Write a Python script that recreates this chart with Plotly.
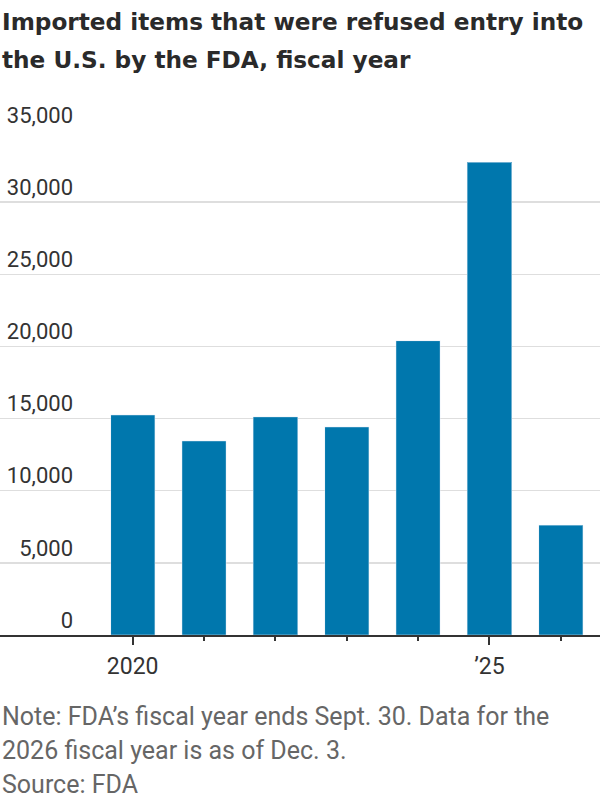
import plotly.graph_objects as go

years = [2020, 2021, 2022, 2023, 2024, 2025, 2026]
refused = [15250, 13450, 15120, 14420, 20400, 32750, 7600]

x_tickvals = [2020, 2025]
x_ticktext = ["2020", "\u201925"]
y_tickvals = [0, 5000, 10000, 15000, 20000, 25000, 30000, 35000]
y_ticktext = ["0", "5,000", "10,000", "15,000", "20,000", "25,000", "30,000", "35,000"]

title_lines = ["Imported items that were refused entry into",
               "the U.S. by the FDA, fiscal year"]
note_lines = ["Note: FDA\u2019s fiscal year ends Sept. 30. Data for the",
              "2026 fiscal year is as of Dec. 3.",
              "Source: FDA"]

W, H = 600, 800
TOP, BOTTOM = 130, 635
PH = BOTTOM - TOP

def py(pix):
    return (BOTTOM - pix) / PH

FONT = "Roboto"

fig = go.Figure()
fig.add_trace(go.Bar(
    x=years, y=refused, width=0.62,
    marker=dict(color="#0077AD", line=dict(width=0)),
    hoverinfo="skip",
))

fig.update_layout(
    width=W, height=H,
    margin=dict(l=0, r=0, t=TOP, b=H - BOTTOM, pad=0, autoexpand=False),
    paper_bgcolor="white", plot_bgcolor="white",
    showlegend=False,
    bargap=0,
    xaxis=dict(
        range=[2018.14, 2026.55], automargin=False,
        tickvals=x_tickvals, ticktext=x_ticktext,
        ticks="outside", ticklen=8, tickwidth=2, tickcolor="#333",
        minor=dict(ticks="outside", ticklen=4, tickwidth=2, tickcolor="#333",
                   tickmode="array", tickvals=years, showgrid=False),
        showline=True, linecolor="#333", linewidth=2,
        showgrid=False, zeroline=False,
        tickfont=dict(family=FONT, size=23, color="#333"),
        ticklabelstandoff=1,
    ),
    yaxis=dict(
        range=[0, 35000], automargin=False,
        tickvals=y_tickvals,
        showticklabels=False, ticks="",
        showgrid=True, gridcolor="#dedede", gridwidth=1.5,
        zeroline=False, showline=False,
    ),
    yaxis2=dict(
        overlaying="y", anchor="free", position=73 / W, side="left",
        matches="y", range=[0, 35000], automargin=False,
        tickvals=y_tickvals, ticktext=y_ticktext,
        ticks="", showgrid=False, zeroline=False, showline=False,
        tickfont=dict(family=FONT, size=22, color="#333"),
        ticklabelshift=-15, ticklabelstandoff=0,
    ),
)

# invisible companion so the label axis is drawn
fig.add_trace(go.Bar(x=years, y=refused, yaxis="y2", width=0.62,
                     marker=dict(color="rgba(0,0,0,0)"), hoverinfo="skip"))

title_centers = [21.6, 59.6]
for line, c in zip(title_lines, title_centers):
    fig.add_annotation(text="<b>" + line + "</b>", xref="paper", yref="paper",
                       x=0, y=py(c), xanchor="left", yanchor="middle",
                       showarrow=False,
                       font=dict(family="DejaVu Sans", size=23.2, color="#2a2a2a"))

note_centers = [716, 750, 784]
for line, c in zip(note_lines, note_centers):
    fig.add_annotation(text=line, xref="paper", yref="paper",
                       x=0, y=py(c), xanchor="left", yanchor="middle",
                       showarrow=False,
                       font=dict(family=FONT, size=25, color="#666"))

fig.write_html("out.html",
               config={"displayModeBar": False, "staticPlot": True},
               post_script="document.body.style.margin='0';"
                           "document.body.style.padding='0';"
                           "document.documentElement.style.overflow='hidden';")
